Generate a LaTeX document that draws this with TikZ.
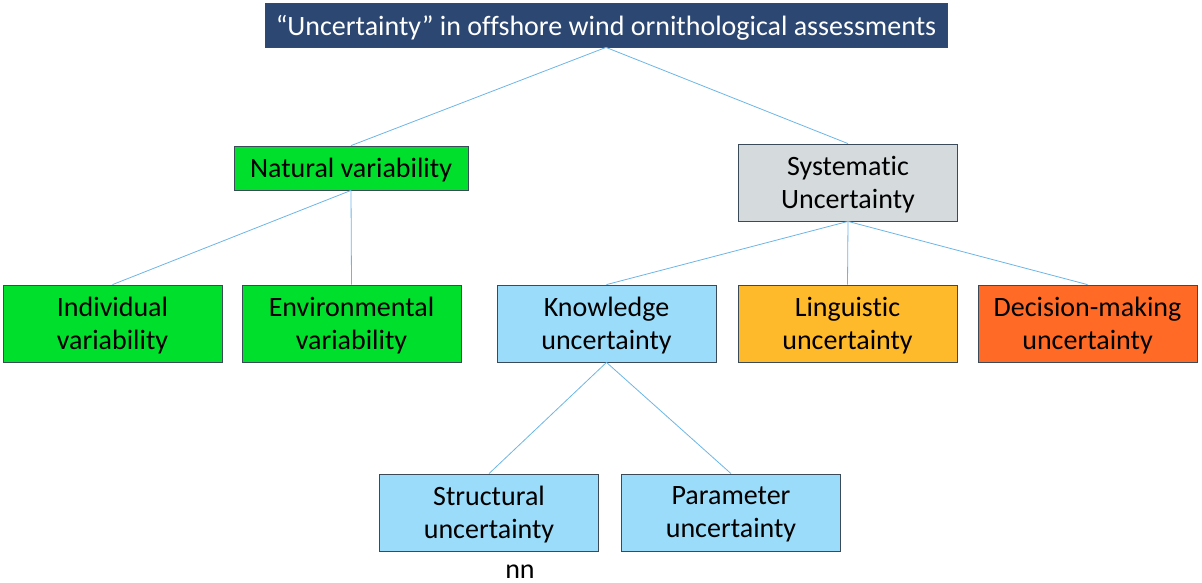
\documentclass[tikz,border=0pt]{standalone}
\usepackage{fontspec}
\setmainfont[Ligatures=NoCommon]{Carlito}
\usepackage{xcolor}
\definecolor{titleblue}{HTML}{2C4872}
\definecolor{natgreen}{HTML}{00DF2B}
\definecolor{sysgrey}{HTML}{D5DBDD}
\definecolor{knowblue}{HTML}{9ADCF9}
\definecolor{linggold}{HTML}{FFBA2C}
\definecolor{decorange}{HTML}{FF6A26}
\definecolor{linkblue}{HTML}{6CB6E6}
\definecolor{boxline}{HTML}{3B4A58}

\begin{document}
\begin{tikzpicture}[x=1pt,y=1pt,node distance=240pt,
    box node/.style={draw=boxline,line width=0.8pt,align=center,inner sep=0pt,text depth=0pt,
        minimum width=219pt,minimum height=77pt,font=\fontsize{28}{33}\selectfont},
    link/.style={draw=linkblue,line width=0.8pt}]
                \useasboundingbox (0,0) rectangle (1202,-582);
                \node[box node,fill=titleblue,text=white,minimum width=682pt,minimum height=44pt] (title) at (606,-25) {“Uncertainty” in offshore wind ornithological assessments};
                \node[box node,fill=natgreen,minimum width=234pt,minimum height=44pt] (nat) at (351,-168) {Natural variability};
                \node[box node,fill=sysgrey] (sys) at (848,-182.5) {Systematic\\Uncertainty};

                \node[box node,fill=natgreen] (ind) at (112.5,-323.5) {Individual\\variability};
                \node[box node,fill=natgreen] (env) [right of = ind, xshift = -1] {Environmental\\variability};
                \node[box node,fill=knowblue] (know) at (606.5,-323.5) {Knowledge\\uncertainty};
                \node[box node,fill=linggold] (ling) [right of = know, xshift = 1] {Linguistic\\uncertainty};
                \node[box node,fill=decorange] (dec) [right of = ling] {Decision-making\\uncertainty};

                \node[box node,fill=knowblue] (struc) at (489,-512.5) {Structural\\uncertainty};
                \node[box node,fill=knowblue] (par) [right of = struc, xshift = 2] {Parameter\\uncertainty};
                \node[font=\fontsize{28}{33}\selectfont,inner sep=0pt,anchor=base] (nn) at (520,-578) {nn};

                \path[link]
                    (title.south) edge (nat.north)
                    (title.south) edge (sys.north)
                    (nat.south) edge (ind.north)
                    (nat.south) edge (env.north)
                    (sys.south) edge (know.north)
                    (sys.south) edge (ling.north)
                    (sys.south) edge (dec.north)
                    (know.south) edge (struc.north)
                    (know.south) edge (par.north)
                    ;
\end{tikzpicture}
\end{document}
